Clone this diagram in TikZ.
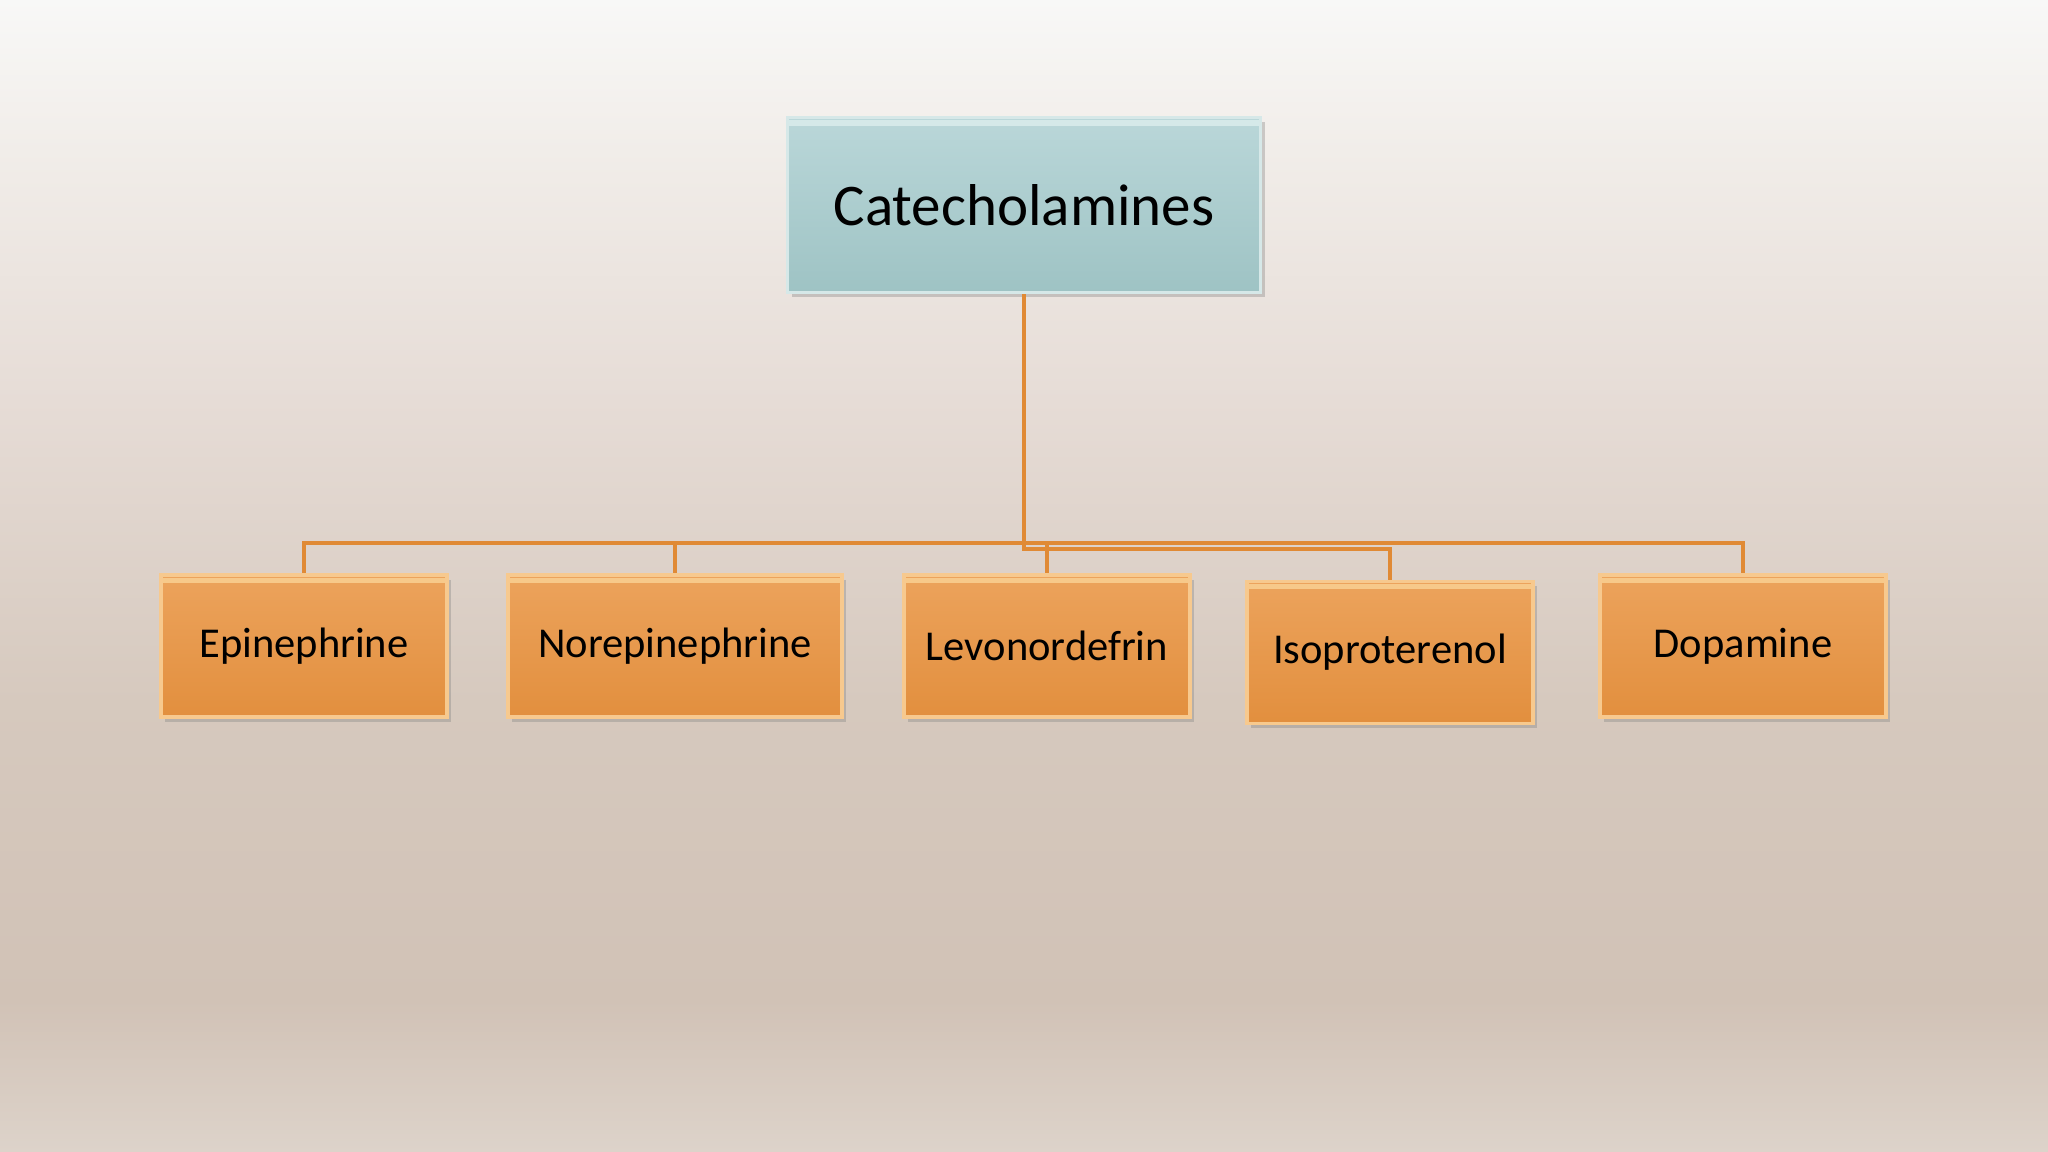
\documentclass[tikz,border=0pt]{standalone}
\usepackage{fontspec}
\setmainfont{Carlito}
\usepackage{tikz}
\usetikzlibrary{shadows}
\usetikzlibrary{calc}
\definecolor{bgtop}{HTML}{F8F8F7}
\definecolor{bgmidA}{HTML}{F1EDE9}
\definecolor{bgmidB}{HTML}{E6DCD6}
\definecolor{bgmidC}{HTML}{D6C9BE}
\definecolor{bgmidD}{HTML}{D1C2B6}
\definecolor{bgbot}{HTML}{DDD3CA}
\definecolor{linkc}{HTML}{E08A35}
\definecolor{leafhi}{HTML}{FAD396}
\definecolor{tophi}{HTML}{DCEEEE}
\pgfdeclareverticalshading{slidebg}{100bp}{color(0bp)=(bgbot); color(25bp)=(bgbot); color(31.6bp)=(bgmidD); color(44.6bp)=(bgmidC); color(57.6bp)=(bgmidB); color(68.5bp)=(bgmidA); color(75bp)=(bgtop); color(100bp)=(bgtop)}
\tikzstyle{topbox} = [draw={rgb,255:red,214;green,232;blue,232},line width=1pt,top color={rgb,255:red,186;green,215;blue,217},bottom color={rgb,255:red,158;green,195;blue,196},minimum width=4.73cm,minimum height=1.75cm,font=\fontsize{16.8}{20}\selectfont,drop shadow={shadow xshift=0.04cm,shadow yshift=-0.05cm,opacity=0.35},path picture={\fill[tophi,opacity=0.8] ($(path picture bounding box.north west)+(0,-0.03)$) rectangle ($(path picture bounding box.north east)+(0,-0.09)$);}]
\tikzstyle{leaf} = [draw={rgb,255:red,247;green,201;blue,142},line width=1pt,top color={rgb,255:red,236;green,163;blue,92},bottom color={rgb,255:red,226;green,143;blue,62},minimum width=2.86cm,minimum height=1.42cm,font=\fontsize{12.1}{15}\selectfont,drop shadow={shadow xshift=0.04cm,shadow yshift=-0.05cm,opacity=0.35},path picture={\fill[leafhi,opacity=0.8] ($(path picture bounding box.north west)+(0,-0.03)$) rectangle ($(path picture bounding box.north east)+(0,-0.08)$);}]
\tikzstyle{link} = [draw=linkc,line width=1.1pt]

\begin{document}
\begin{tikzpicture}[scale=1]
\useasboundingbox (0,0) rectangle (20.48,11.52);
\shade[shading=slidebg] (0,0) rectangle (20.48,11.52);

\draw(10.24,9.47) node[topbox] (cat) {Catecholamines};

\draw(3.04,5.06) node[leaf] (epi) {Epinephrine};
\draw(6.75,5.06) node[leaf,minimum width=3.34cm] (nor) {Norepinephrine};
\draw(10.47,5.06) node[leaf] (lev) {Levonordefrin};
\draw(13.90,4.995) node[leaf] (iso) {Isoproterenol};
\draw(17.43,5.06) node[leaf] (dop) {Dopamine};

\coordinate (bus) at (10.24,6.09);
\coordinate (bus2) at (10.24,6.03);

\draw[link] (cat.south) -- (bus);
\draw[link] (bus) -| (epi.north);
\draw[link] (bus) -| (nor.north);
\draw[link] (bus) -| (lev.north);
\draw[link] (bus) -| (dop.north);
\draw[link] (bus) -- (bus2) -| (iso.north);

\end{tikzpicture}
\end{document}
